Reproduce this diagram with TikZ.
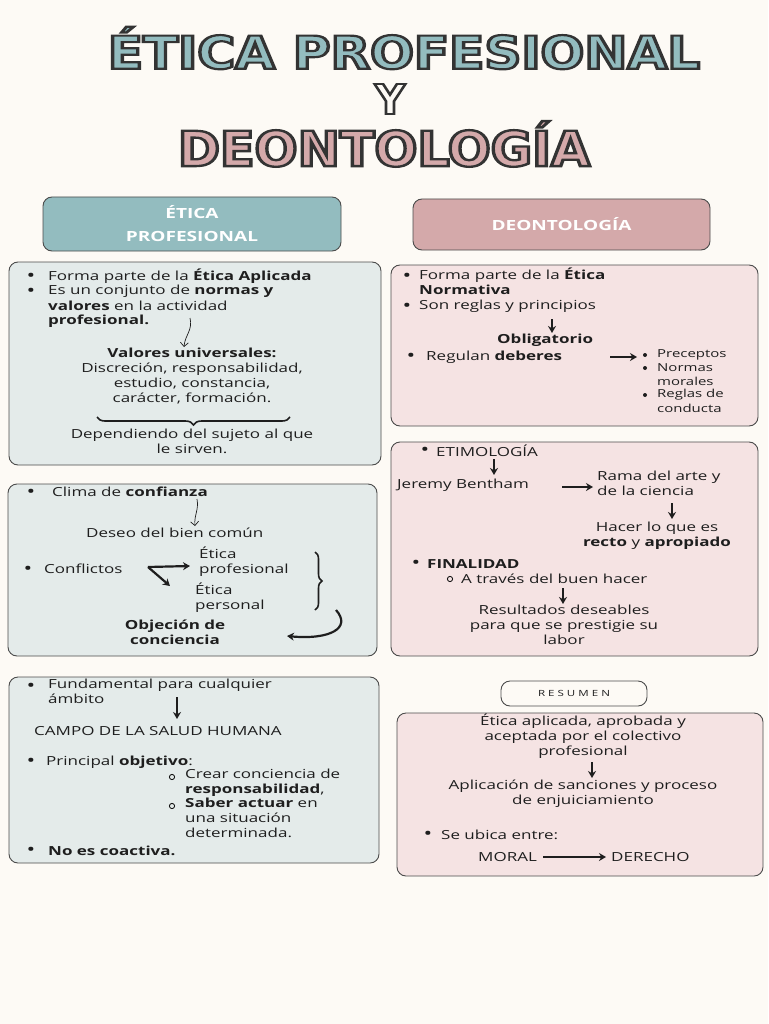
\documentclass[tikz,border=0pt]{standalone}
\usepackage{fontspec}
\usepackage{graphicx}
\setmainfont{Open Sans}[FakeStretch=1.36]
\newfontfamily\titlefont{DejaVu Sans Condensed}[FakeStretch=0.8]
\usetikzlibrary{arrows.meta,decorations.pathreplacing}
\definecolor{bg}{HTML}{FDFAF5}
\definecolor{teal}{HTML}{93BCBF}
\definecolor{pinkk}{HTML}{D4A9AA}
\definecolor{lbox}{HTML}{E4EBEA}
\definecolor{rbox}{HTML}{F5E3E3}
\definecolor{ink}{HTML}{1E1E1E}
\newcommand\outl[2]{{\color{#1}\special{pdf:code 2 Tr 0.6 w 0.2 0.2 0.2 RG}#2\special{pdf:code 0 Tr}}}
\newcommand\bul{{\fontsize{17}{15}\selectfont\textbullet}}
\begin{document}
\begin{tikzpicture}[x=1pt,y=-1pt,
  every node/.style={inner sep=0pt,text=ink,font=\fontsize{12.5}{15}\selectfont},
  lb/.style={draw=ink!80,line width=0.9pt,rounded corners=9pt,fill=lbox},
  rb/.style={draw=ink!80,line width=0.9pt,rounded corners=9pt,fill=rbox},
  tx/.style={anchor=west},
  bu/.style={anchor=center},
  ct/.style={align=center,anchor=north},
  arr/.style={draw=ink,line width=2.2pt,-{Stealth[length=7pt,width=8pt]}},
  thinarr/.style={draw=ink,line width=0.7pt,-{Straight Barb[length=4pt]}},
  small/.style={anchor=west,font=\fontsize{11}{13}\selectfont}]
\fill[bg] (0,0) rectangle (768,1024);
\useasboundingbox (0,0) rectangle (768,1024);
% title
\node (t1) at (404,48) {\resizebox{592pt}{42pt}{\titlefont\bfseries\outl{teal}{ÉTICA PROFESIONAL}}};
\node (t2) at (390,99) {\resizebox{30pt}{30pt}{\titlefont\bfseries\outl{bg}{Y}}};
\node (t3) at (384,144) {\resizebox{412pt}{45pt}{\titlefont\bfseries\outl{pinkk}{DEONTOLOGÍA}}};
% headers
\node[draw=ink!80,line width=0.9pt,rounded corners=9pt,fill=teal,minimum width=298pt,minimum height=54pt,align=center,text=white,font=\fontsize{14}{23}\selectfont\bfseries] (h1) at (192,224) {ÉTICA\\PROFESIONAL};
\node[draw=ink!80,line width=0.9pt,rounded corners=9pt,fill=pinkk,minimum width=297pt,minimum height=51pt,text=white,font=\fontsize{14}{17}\selectfont\bfseries] (h2) at (561.5,224.5) {DEONTOLOGÍA};
% boxes
\draw[lb] (9,262) rectangle (381,465);
\draw[rb] (391,265) rectangle (758,426);
\draw[lb] (8,484) rectangle (377,656);
\draw[rb] (391,442) rectangle (758,656);
\draw[lb] (9,677) rectangle (379,863);
\draw[rb] (397,713) rectangle (763,876);
\node[draw=ink!80,line width=0.9pt,rounded corners=9pt,fill=bg,minimum width=146pt,minimum height=25pt,font=\fontsize{8.5}{10}\selectfont] (res) at (574,693.5) {R E S U M E N};
% left box 1
\node[bu] at (31,277) {\bul}; \node[tx] (a1) at (48,276) {Forma parte de la \textbf{Ética Aplicada}};
\node[bu] at (31,292) {\bul}; \node[tx] at (48,291) {Es un conjunto de \textbf{normas y}};
\node[tx] at (48,306) {\textbf{valores} en la actividad};
\node[tx] (a2) at (48,321) {\textbf{profesional.}};
\coordinate (c1) at (190,318); \coordinate (c2) at (184,347);
\draw[thinarr] (c1) .. controls (193,330) and (185,335) .. (c2);
\node[ct] (vu) at (192,348) {\textbf{Valores universales:}\\Discreción, responsabilidad,\\estudio, constancia,\\carácter, formación.};
\coordinate (b1) at (290,417); \coordinate (b2) at (97,417);
\draw[decorate,decoration={brace,amplitude=8pt},line width=1.6pt,ink] (b1) -- (b2);
\node[ct] (dep) at (192,429) {Dependiendo del sujeto al que\\le sirven.};
% left box 2
\node[bu] at (31,493) {\bul}; \node[tx] (cl) at (52,492) {Clima de \textbf{confianza}};
\coordinate (d1) at (197,499); \coordinate (d2) at (195,526);
\draw[thinarr] (d1) .. controls (199,510) and (194,515) .. (d2);
\node[tx] (ds) at (86,533) {Deseo del bien común};
\node[bu] at (28,570) {\bul}; \node[tx] (cf) at (44,569) {Conflictos};
\node[tx,align=left,anchor=north west] (ep) at (199,547) {Ética\\profesional};
\node[tx,align=left,anchor=north west] (es) at (195,583) {Ética\\personal};
\coordinate (e0) at (148,567);
\draw[arr] (e0) -- (190,566);
\draw[arr] (e0) -- (170,586);
\coordinate (f1) at (315,552); \coordinate (f2) at (315,610);
\draw[decorate,decoration={brace,amplitude=7pt},line width=1.6pt,ink] (f1) -- (f2);
\coordinate (g1) at (336,610); \coordinate (g2) at (287,636);
\draw[arr] (g1) .. controls (352,628) and (330,640) .. (g2);
\node[ct] (ob) at (175,620) {\textbf{Objeción de}\\\textbf{conciencia}};
% left box 3
\node[bu] at (31,687) {\bul}; \node[tx,align=left,anchor=north west] (fu) at (48,679) {Fundamental para cualquier\\ámbito};
\coordinate (k1) at (177,697); \coordinate (k2) at (177,719);
\draw[arr] (k1) -- (k2);
\node[tx] (cs) at (34,731) {CAMPO DE LA SALUD HUMANA};
\node[bu] at (31,762) {\bul}; \node[tx] (po) at (46,762) {Principal \textbf{objetivo}:};
\draw[line width=0.8pt] (172,777) circle (2.6pt);
\node[tx,align=left,anchor=north west] (cc) at (185,769) {Crear conciencia de\\\textbf{responsabilidad},};
\draw[line width=0.8pt] (172,806) circle (2.6pt);
\node[tx,align=left,anchor=north west] (sa) at (185,798) {\textbf{Saber actuar} en\\una situación\\determinada.};
\node[bu] at (31,851) {\bul}; \node[tx] (nc) at (48,851) {\textbf{No es coactiva.}};
% right box 1
\node[bu] at (407,277) {\bul}; \node[tx,align=left,anchor=north west] (r1) at (419,268) {Forma parte de la \textbf{Ética}\\\textbf{Normativa}};
\node[bu] at (407,307) {\bul}; \node[tx] (r2) at (419,306) {Son reglas y principios};
\coordinate (m1) at (552,319); \coordinate (m2) at (552,333);
\draw[arr] (m1) -- (m2);
\node[tx] (obl) at (497,340) {\textbf{Obligatorio}};
\node[bu] at (411,357) {\bul}; \node[tx] (rg) at (426,357) {Regulan \textbf{deberes}};
\coordinate (n1) at (610,357); \coordinate (n2) at (637,357);
\draw[arr] (n1) -- (n2);
\fill[ink] (645,355) circle (2pt); \node[small] (p1) at (657,355) {Preceptos};
\fill[ink] (645,368) circle (2pt); \node[small] (p2) at (657,368) {Normas};
\node[small] (p2b) at (657,381) {morales};
\fill[ink] (645,395) circle (2pt); \node[small] (p3) at (657,395) {Reglas de};
\node[small] (p3b) at (657,408) {conducta};
% right box 2
\node[bu] at (425,451) {\bul}; \node[tx] (et) at (436,451) {ETIMOLOGÍA};
\coordinate (q1) at (494,459); \coordinate (q2) at (494,475);
\draw[arr] (q1) -- (q2);
\node[tx] (jb) at (397,485) {Jeremy Bentham};
\coordinate (q3) at (562,487); \coordinate (q4) at (593,487);
\draw[arr] (q3) -- (q4);
\node[tx,align=left,anchor=north west] (ra) at (597,471) {Rama del arte y\\de la ciencia};
\coordinate (q5) at (672,503); \coordinate (q6) at (672,519);
\draw[arr] (q5) -- (q6);
\node[ct] (hl) at (657,522) {Hacer lo que es\\\textbf{recto} y \textbf{apropiado}};
\node[bu] at (416,564) {\bul}; \node[tx] (fi) at (427,564) {\textbf{FINALIDAD}};
\draw[line width=0.8pt] (450,579) circle (2.6pt);
\node[tx] (at) at (461,579) {A través del buen hacer};
\coordinate (q7) at (563,588); \coordinate (q8) at (563,604);
\draw[arr] (q7) -- (q8);
\node[ct] (rd) at (564,605) {Resultados deseables\\para que se prestigie su\\labor};
% right box 3
\node[ct] (ea) at (583,714) {Ética aplicada, aprobada y\\aceptada por el colectivo\\profesional};
\coordinate (s1) at (592,762); \coordinate (s2) at (592,778);
\draw[arr] (s1) -- (s2);
\node[ct] (ap) at (583,780) {Aplicación de sanciones y proceso\\de enjuiciamiento};
\node[bu] at (428,835) {\bul}; \node[tx] (se) at (441,835) {Se ubica entre:};
\node[tx] (mo) at (478,857) {MORAL};
\node[tx] (de) at (611,857) {DERECHO};
\draw[arr] (mo.east) ++(6,0) -- ([xshift=-5pt]de.west);
\end{tikzpicture}
\end{document}
